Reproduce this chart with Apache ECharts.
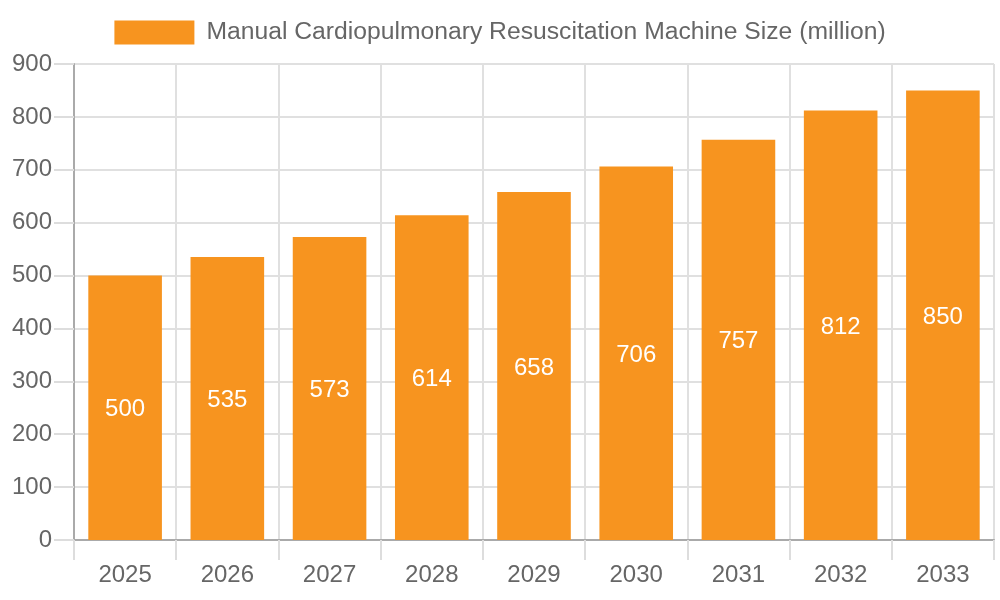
<!DOCTYPE html>
<html>
<head>
<meta charset="utf-8">
<script src="https://cdn.jsdelivr.net/npm/echarts@6/dist/echarts.min.js"></script>
<style>
  html, body { margin: 0; padding: 0; background: #fff; }
  #chart { width: 1000px; height: 600px; }
</style>
</head>
<body>
<div id="chart"></div>
<script>
// data
var years = ['2025', '2026', '2027', '2028', '2029', '2030', '2031', '2032', '2033'];
var sizes = [500, 535, 573, 614, 658, 706, 757, 812, 850];
var seriesName = 'Manual Cardiopulmonary Resuscitation Machine Size (million)';

var chart = echarts.init(document.getElementById('chart'));
var font = 'Liberation Sans, Arial, sans-serif';
var option = {
  animation: false,
  textStyle: { fontFamily: font },
  legend: {
    top: 15,
    left: 'center',
    itemWidth: 80,
    itemHeight: 24,
    itemGap: 12,
    icon: 'rect',
    textStyle: { fontSize: 24.7, color: '#666', fontFamily: font, padding: [0, 0, 0, 7] },
    data: [seriesName]
  },
  grid: { left: 74, right: 6, top: 64, bottom: 60 },
  xAxis: {
    type: 'category',
    data: years,
    axisLine: { lineStyle: { color: '#aaa', width: 2 } },
    axisTick: { show: true, length: 20, lineStyle: { color: '#ddd', width: 2 } },
    axisLabel: { fontSize: 24, color: '#666', margin: 23, fontFamily: font },
    splitLine: { show: true, lineStyle: { color: '#e0e0e0', width: 2 } }
  },
  yAxis: {
    type: 'value',
    min: 0,
    max: 900,
    interval: 100,
    axisLine: { show: true, lineStyle: { color: '#aaa', width: 2 } },
    axisTick: { show: true, length: 20, lineStyle: { color: '#ddd', width: 2 } },
    axisLabel: { fontSize: 24, color: '#666', margin: 22, fontFamily: font },
    splitLine: { show: true, lineStyle: { color: '#e0e0e0', width: 2 } }
  },
  series: [{
    name: seriesName,
    type: 'bar',
    data: sizes,
    barWidth: '72%',
    itemStyle: { color: '#F7941F' },
    label: {
      show: true,
      position: 'inside',
      color: '#fff',
      fontSize: 24,
      fontFamily: font,
      offset: [0, 2]
    }
  }]
};
chart.setOption(option);
</script>
</body>
</html>
